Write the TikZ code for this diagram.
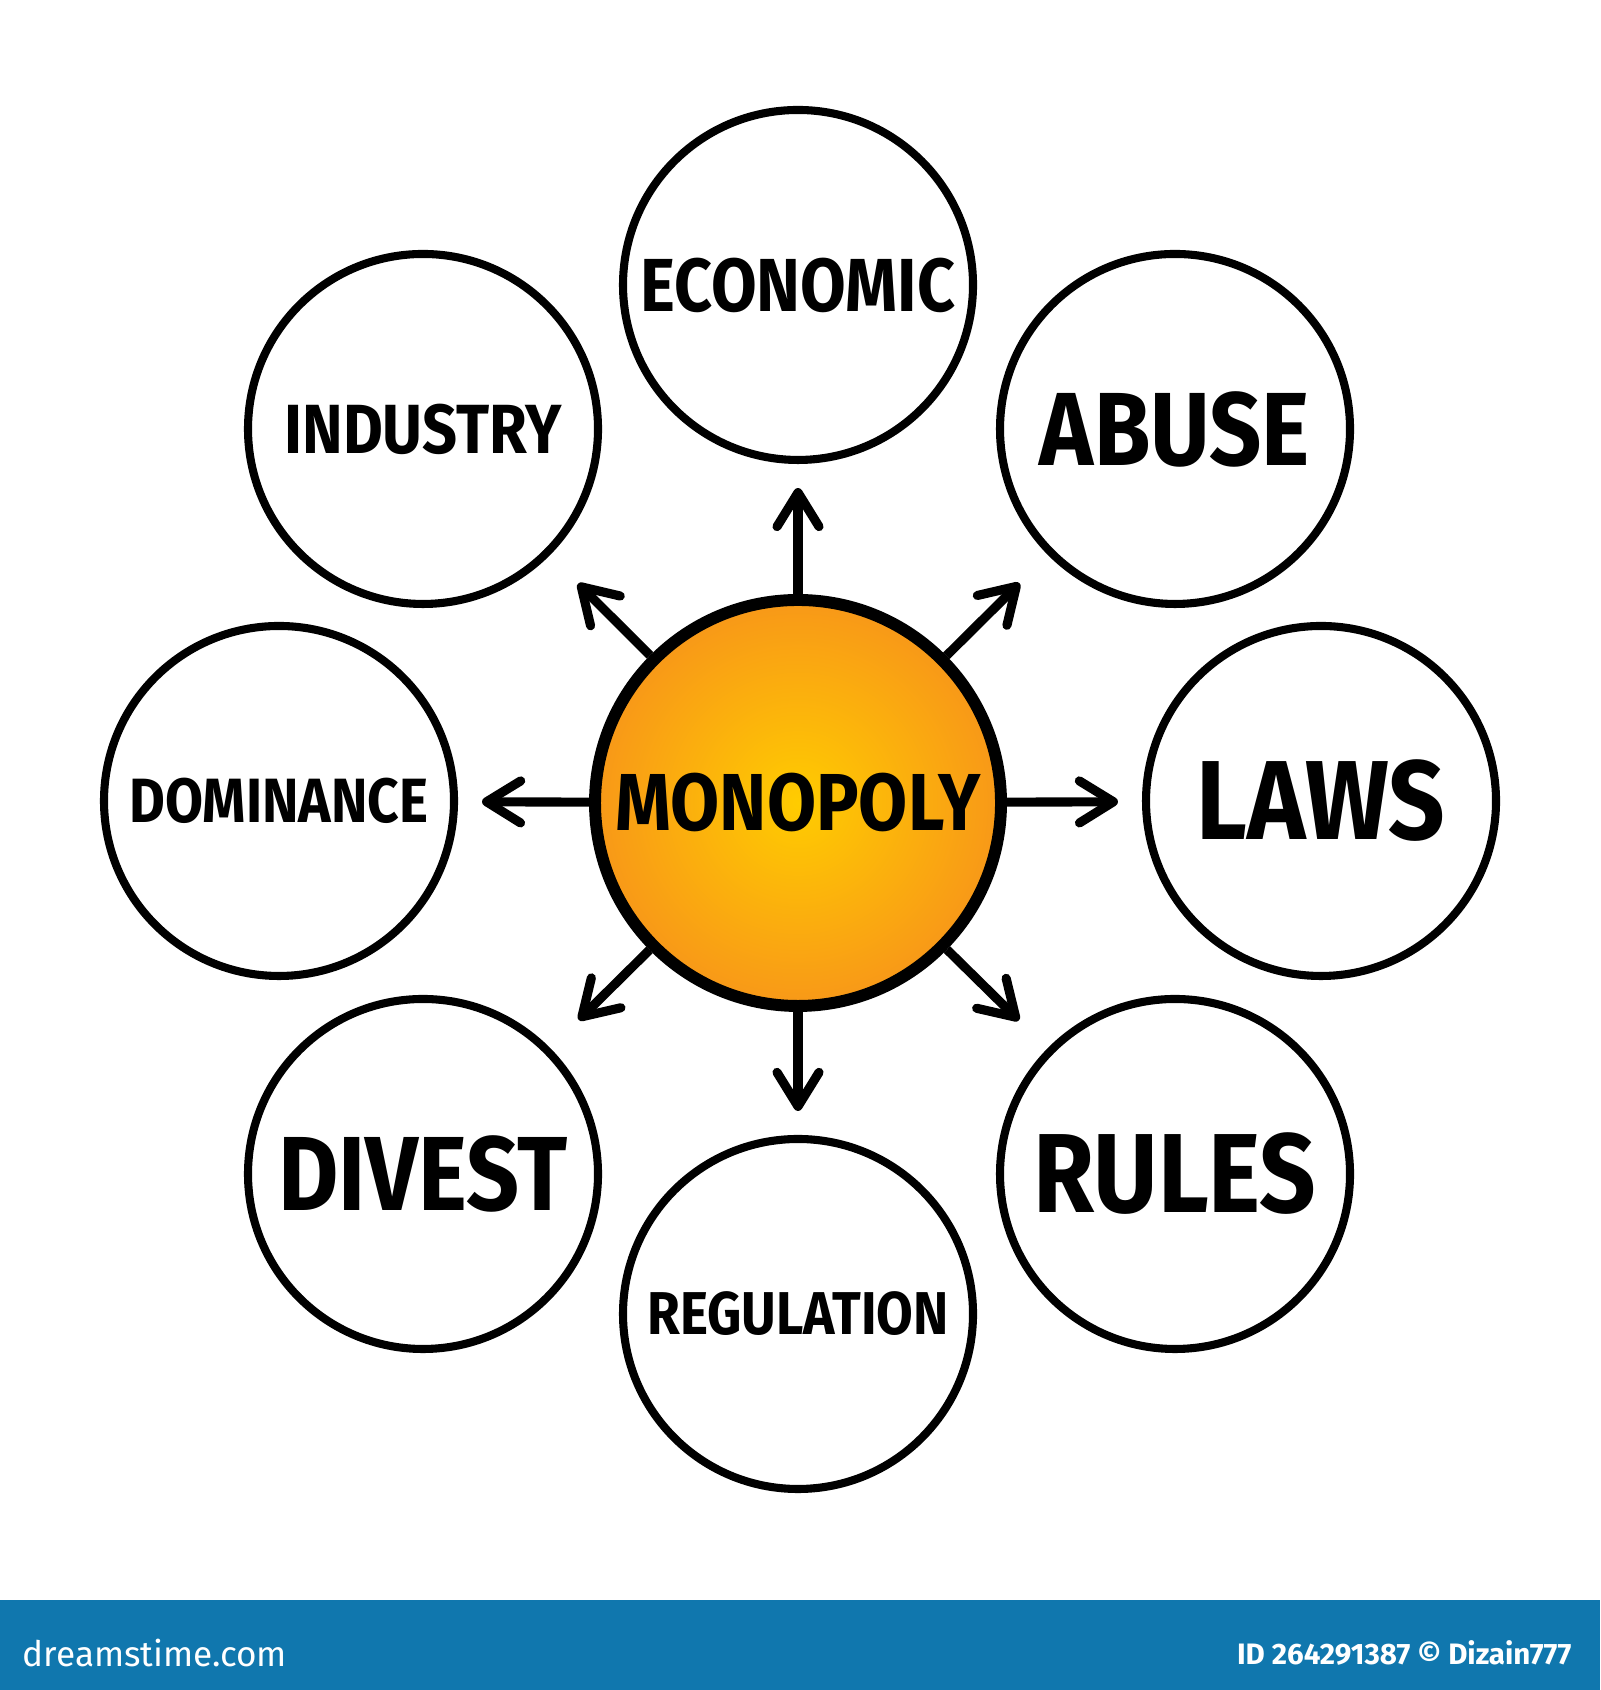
\documentclass[tikz,border=0pt]{standalone}
\usepackage{fontspec}
\setmainfont{Fira Sans}
\newfontfamily\handfont[FakeStretch=0.88]{Fira Sans}
\usetikzlibrary{arrows.meta}
\definecolor{barblue}{RGB}{16,119,174}
\definecolor{hubin}{RGB}{255,204,0}
\definecolor{hubout}{RGB}{248,152,24}

\begin{document}
\begin{tikzpicture}[
  bubble/.style = {circle, draw, line width=2.3pt, minimum size=3.5cm, fill=white, font=\handfont\bfseries},
  hub/.style = {circle, draw, line width=3.4pt, minimum size=4.06cm, inner color=hubin, outer color=hubout, font=\handfont\bfseries},
  arr/.style = {line width=2.6pt, -{Straight Barb[length=3.4mm,width=4.2mm,round]}}
]
  \useasboundingbox (0,0) rectangle (16,16.9);
  \fill[barblue] (0,0) rectangle (16,0.9);
  \node[hub] (0) at (7.98,8.87) {\fontsize{23}{27}\selectfont MONOPOLY};
  \node[bubble] (1) at (7.98,14.05) {\fontsize{21.4}{25}\selectfont ECONOMIC};
  \node[bubble] (2) at (11.75,12.61) {\fontsize{29.6}{34}\selectfont ABUSE};
  \node[bubble] (3) at (13.21,8.89) {\fontsize{32}{36}\selectfont LAWS};
  \node[bubble] (4) at (11.75,5.16) {\fontsize{32}{36}\selectfont RULES};
  \node[bubble] (5) at (7.98,3.76) {\raisebox{-0.1cm}{\fontsize{17.2}{20}\selectfont REGULATION}};
  \node[bubble] (6) at (4.23,5.16) {\fontsize{30}{34}\selectfont DIVEST};
  \node[bubble] (7) at (2.79,8.89) {\fontsize{17.8}{21}\selectfont DOMINANCE};
  \node[bubble] (8) at (4.23,12.61) {\raisebox{-0.07cm}{\fontsize{19.8}{23}\selectfont INDUSTRY}};
  \foreach \n/\s in {1/0.24,2/0.40,3/0.24,4/0.40,5/0.24,6/0.40,7/0.24,8/0.40}
    \draw[arr, shorten >=\s cm] (0) -- (\n);
  \node[white, inner sep=0, anchor=west, font=\fontsize{10}{12}\selectfont] (9) at (0.22,0.37) {dreamstime.com};
  \node[white, inner sep=0, anchor=east, font=\bfseries\fontsize{8.4}{10}\selectfont] (10) at (15.72,0.37) {ID 264291387 © Dizain777};
\end{tikzpicture}
\end{document}
